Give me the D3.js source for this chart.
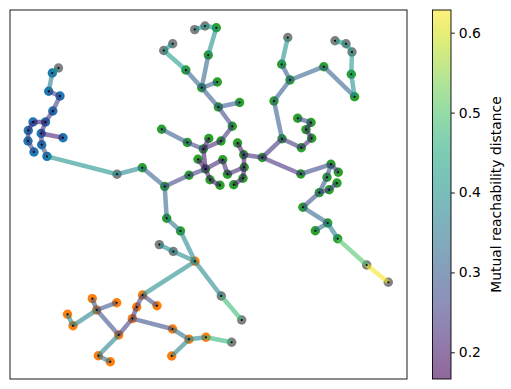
<!DOCTYPE html>
<html>
<head>
<meta charset="utf-8">
<script src="https://cdn.jsdelivr.net/npm/d3@7"></script>
<style>
  html, body { margin: 0; padding: 0; background: #fff; }
  svg { display: block; font-family: "DejaVu Sans", sans-serif; }
</style>
</head>
<body>
<div id="plot"></div>
<script>
// cluster labels: 0 blue, 1 orange, 2 green, -1 noise
const clusterColors = { '0': '#1f77b4', '1': '#ff7f0e', '2': '#2ca02c', '-1': '#808080' };

// node positions [id, x, y, cluster]
const blueNodes = [
  ['n0', 58.5, 68, -1], ['b1', 52.3, 73, 0], ['b2', 48.7, 91.3, 0], ['b3', 60, 96, 0],
  ['b4', 52.8, 111, 0], ['b5', 45.5, 122, 0], ['b6', 33, 122, 0], ['b7', 28.3, 130.5, 0],
  ['b8', 41.2, 133.5, 0], ['b9', 63, 137.8, 0], ['b10', 28, 141, 0], ['b11', 41.7, 144.7, 0],
  ['b12', 34, 152, 0], ['b13', 47, 156.4, 0]
];
const orangeNodes = [
  ['o1', 195, 261.3, 1], ['o2', 142.5, 295, 1], ['o3', 157, 305.7, 1], ['o4', 136.7, 307, 1],
  ['o5', 132.3, 318.6, 1], ['o6', 118.7, 335, 1], ['o7', 96.7, 310, 1], ['o8', 92.3, 298.6, 1],
  ['o9', 116.7, 302.7, 1], ['o10', 67.5, 314.3, 1], ['o11', 73, 325.7, 1], ['o12', 98.3, 355.7, 1],
  ['o13', 110.3, 361.7, 1], ['o14', 172.5, 329, 1], ['o15', 189, 339.3, 1], ['o16', 206, 337.3, 1],
  ['o17', 171.7, 356, 1], ['o18', 231.7, 342.3, -1]
];
const greenNodes = [
  ['g1', 194.7, 29.6, -1], ['g2', 205, 26, -1], ['g3', 216.3, 27.7, 2], ['g4', 163.7, 50.5, -1],
  ['g5', 172.7, 43.7, -1], ['g6', 185.8, 70, 2], ['g7', 208.3, 55, 2], ['g8', 201.7, 87.8, 2],
  ['g9', 217.3, 82, 2], ['g10', 218.3, 107, 2], ['g11', 239.6, 102.5, 2], ['g12', 232.3, 126.3, 2],
  ['g13', 161.7, 129.3, 2], ['g14', 187.3, 142.5, 2], ['g15', 203.3, 149, 2], ['g16', 208.8, 138.5, 2],
  ['g17', 221, 141, 2], ['g18', 198, 159.3, 2], ['g19', 205.5, 169, 2], ['g20', 222.7, 159.7, 2],
  ['g21', 189, 175.3, 2], ['g22', 210, 179.7, 2], ['g23', 220, 185.3, 2], ['g24', 227.5, 174.3, 2],
  ['g25', 237.5, 143, 2], ['g26', 243.7, 154.7, 2], ['g27', 244.2, 167.2, 2], ['g28', 243, 178.3, 2],
  ['g29', 233.7, 184.7, 2], ['g30', 262.3, 157.5, 2], ['g31', 282, 138.8, 2], ['g32', 274, 101, 2],
  ['g33', 290, 80, 2], ['g34', 281.7, 64.3, 2], ['g35', 287.8, 37.5, -1], ['g36', 323.8, 66.7, 2],
  ['g37', 354.6, 96.7, 2], ['g38', 351.3, 74.3, 2], ['g39', 352, 52, -1], ['g40', 346, 43.7, -1],
  ['g41', 335, 40.8, -1], ['g42', 297.7, 118.3, 2], ['g43', 311, 122.5, 2], ['g44', 306, 129.6, 2],
  ['g45', 311.7, 138.3, 2], ['g46', 301.3, 147.8, 2], ['g47', 300.8, 174, 2], ['g48', 330.9, 164.3, 2],
  ['g49', 338.3, 172.3, 2], ['g50', 327, 177.2, 2], ['g51', 337, 183, 2], ['g52', 329.2, 189.7, 2],
  ['g53', 319.3, 192.6, 2], ['g54', 302.9, 207.3, 2], ['g55', 327.7, 223, 2], ['g56', 315.3, 230.7, 2],
  ['g57', 337.7, 238.8, 2], ['g58', 366.7, 265, -1], ['g59', 388.3, 282.3, -1],
  ['gA', 117, 174.3, -1], ['gB', 142.3, 167.7, 2], ['gC', 164.7, 186.5, 2], ['gD', 166.7, 218.3, 2],
  ['gE', 180.5, 231, 2], ['gF', 159.3, 244.6, -1], ['gG', 173.3, 251.5, -1], ['gH', 221.3, 296, -1],
  ['gI', 241.7, 320, -1]
];

// MST edges [from, to, mutual reachability distance]
const edges = [
  ['n0', 'b1', 0.40], ['b1', 'b2', 0.36], ['b2', 'b3', 0.27], ['b3', 'b4', 0.26], ['b4', 'b5', 0.24],
  ['b5', 'b6', 0.20], ['b5', 'b8', 0.22], ['b6', 'b7', 0.22], ['b8', 'b9', 0.21], ['b8', 'b11', 0.27],
  ['b7', 'b10', 0.25], ['b10', 'b12', 0.27], ['b11', 'b13', 0.30], ['b13', 'gA', 0.40],
  ['gA', 'gB', 0.38], ['gB', 'gC', 0.31], ['gC', 'g21', 0.26], ['gC', 'gD', 0.32], ['gD', 'gE', 0.35],
  ['gE', 'o1', 0.38], ['gF', 'gG', 0.39], ['gG', 'o1', 0.38], ['o1', 'gH', 0.38], ['gH', 'gI', 0.48],
  ['o1', 'o2', 0.39],
  ['o2', 'o3', 0.28], ['o2', 'o4', 0.27], ['o4', 'o5', 0.24], ['o5', 'o6', 0.25], ['o5', 'o14', 0.28],
  ['o14', 'o15', 0.34], ['o15', 'o16', 0.38], ['o16', 'o18', 0.47], ['o15', 'o17', 0.37],
  ['o6', 'o7', 0.28], ['o7', 'o8', 0.30], ['o7', 'o9', 0.29], ['o7', 'o11', 0.37], ['o11', 'o10', 0.37],
  ['o6', 'o12', 0.37], ['o12', 'o13', 0.34],
  ['g1', 'g2', 0.40], ['g2', 'g3', 0.42], ['g3', 'g7', 0.40], ['g7', 'g8', 0.32], ['g8', 'g6', 0.31],
  ['g6', 'g4', 0.42], ['g4', 'g5', 0.40], ['g8', 'g9', 0.30], ['g8', 'g10', 0.30], ['g10', 'g11', 0.30],
  ['g10', 'g12', 0.27], ['g12', 'g17', 0.24], ['g17', 'g15', 0.22], ['g16', 'g15', 0.20],
  ['g14', 'g15', 0.26], ['g13', 'g14', 0.30], ['g15', 'g19', 0.20], ['g18', 'g19', 0.20],
  ['g19', 'g21', 0.25], ['g19', 'g20', 0.22], ['g20', 'g24', 0.22], ['g19', 'g22', 0.20],
  ['g22', 'g23', 0.20], ['g24', 'g27', 0.22], ['g27', 'g26', 0.20], ['g26', 'g25', 0.20],
  ['g27', 'g28', 0.20], ['g28', 'g29', 0.20], ['g26', 'g30', 0.22], ['g30', 'g31', 0.23],
  ['g30', 'g47', 0.23], ['g31', 'g32', 0.30], ['g31', 'g46', 0.24], ['g46', 'g45', 0.22],
  ['g45', 'g44', 0.22], ['g44', 'g43', 0.22], ['g43', 'g42', 0.27], ['g32', 'g33', 0.30],
  ['g33', 'g34', 0.30], ['g34', 'g35', 0.40], ['g33', 'g36', 0.31], ['g36', 'g37', 0.31],
  ['g37', 'g38', 0.40], ['g38', 'g39', 0.42], ['g39', 'g40', 0.42], ['g40', 'g41', 0.42],
  ['g47', 'g48', 0.27], ['g48', 'g49', 0.25], ['g48', 'g50', 0.28], ['g50', 'g53', 0.29],
  ['g53', 'g52', 0.25], ['g52', 'g51', 0.25], ['g53', 'g54', 0.28], ['g54', 'g55', 0.31],
  ['g55', 'g56', 0.33], ['g55', 'g57', 0.36], ['g57', 'g58', 0.50], ['g58', 'g59', 0.62]
];

const cbTicks = [0.2, 0.3, 0.4, 0.5, 0.6];
const cbDomain = [0.1666, 0.6284];
const cbLabel = 'Mutual reachability distance';

const W = 511, H = 389;
const frame = { left: 10, top: 10, right: 407, bottom: 379 };
const cb = { left: 432.5, right: 451, top: 10, bottom: 379 };

const svg = d3.select('#plot').append('svg').attr('width', W).attr('height', H);

const nodes = blueNodes.concat(orangeNodes, greenNodes)
  .map(d => ({ id: d[0], x: d[1], y: d[2], c: d[3] }));
const byId = new Map(nodes.map(d => [d.id, d]));
const links = edges.map(e => ({ s: byId.get(e[0]), t: byId.get(e[1]), v: e[2] }));

// data units are read in picture units of the plot frame
const xScale = d3.scaleLinear().domain([10, 407]).range([frame.left, frame.right]);
const yScale = d3.scaleLinear().domain([10, 379]).range([frame.top, frame.bottom]);
const color = d3.scaleSequential(d3.interpolateViridis).domain(cbDomain);

const plot = svg.append('g');

// cluster-coloured points under the tree
plot.selectAll('circle.node')
  .data(nodes)
  .enter()
  .append('circle')
  .attr('class', 'node')
  .attr('cx', d => xScale(d.x))
  .attr('cy', d => yScale(d.y))
  .attr('r', 4.7)
  .attr('fill', d => clusterColors[String(d.c)]);

plot.selectAll('line.edge')
  .data(links)
  .enter()
  .append('line')
  .attr('class', 'edge')
  .attr('x1', d => xScale(d.s.x))
  .attr('y1', d => yScale(d.s.y))
  .attr('x2', d => xScale(d.t.x))
  .attr('y2', d => yScale(d.t.y))
  .attr('stroke', d => color(d.v))
  .attr('stroke-opacity', 0.6)
  .attr('stroke-width', 4.5);

plot.selectAll('circle.dot')
  .data(nodes)
  .enter()
  .append('circle')
  .attr('class', 'dot')
  .attr('cx', d => xScale(d.x))
  .attr('cy', d => yScale(d.y))
  .attr('r', 1)
  .attr('fill', '#000');

svg.append('rect')
  .attr('x', frame.left).attr('y', frame.top)
  .attr('width', frame.right - frame.left).attr('height', frame.bottom - frame.top)
  .attr('fill', 'none').attr('stroke', '#000').attr('stroke-width', 0.9);

// colorbar
const grad = svg.append('defs').append('linearGradient')
  .attr('id', 'cbgrad').attr('x1', 0).attr('y1', 1).attr('x2', 0).attr('y2', 0);
d3.range(0, 1.0001, 0.05).forEach(t => {
  grad.append('stop').attr('offset', t).attr('stop-color', d3.interpolateViridis(t));
});

svg.append('rect')
  .attr('x', cb.left).attr('y', cb.top)
  .attr('width', cb.right - cb.left).attr('height', cb.bottom - cb.top)
  .attr('fill', 'url(#cbgrad)').attr('fill-opacity', 0.6);
svg.append('rect')
  .attr('x', cb.left).attr('y', cb.top)
  .attr('width', cb.right - cb.left).attr('height', cb.bottom - cb.top)
  .attr('fill', 'none').attr('stroke', '#000').attr('stroke-width', 0.9);

const cbScale = d3.scaleLinear().domain(cbDomain).range([cb.bottom, cb.top]);
const cbAxis = d3.axisRight(cbScale).tickValues(cbTicks).tickSize(3.9).tickPadding(3.9)
  .tickFormat(d3.format('.1f'));
const cbG = svg.append('g').attr('transform', `translate(${cb.right},0)`).call(cbAxis);
cbG.select('.domain').remove();
cbG.selectAll('line').attr('stroke', '#000').attr('stroke-width', 0.9);
cbG.selectAll('text').attr('fill', '#000').style('font-size', '13.9px').style('font-family', '"DejaVu Sans", sans-serif');

svg.append('text')
  .attr('transform', `translate(496,${(cb.top + cb.bottom) / 2}) rotate(-90)`)
  .attr('text-anchor', 'middle')
  .attr('dy', '0.35em')
  .style('font-size', '13.9px')
  .text(cbLabel);
</script>
</body>
</html>
